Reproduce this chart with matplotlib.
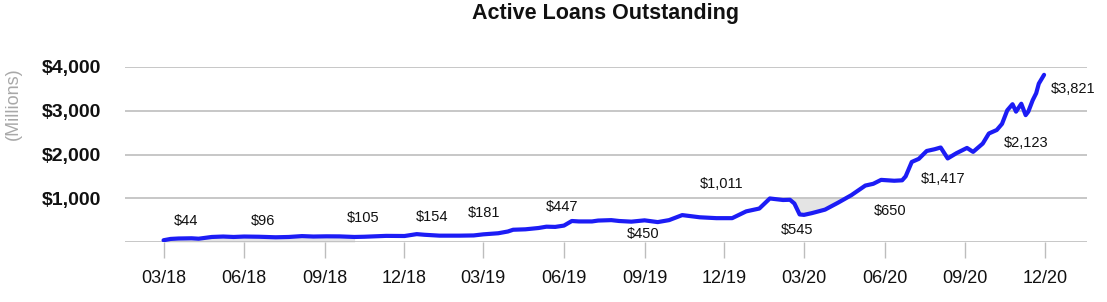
import matplotlib
matplotlib.use("Agg")
import matplotlib.pyplot as plt
import matplotlib.dates as mdates
import pandas as pd

plt.rcParams['font.family'] = ['Liberation Sans', 'DejaVu Sans']

# ---- data ----
dates = [
    "2018-03-01", "2018-03-09", "2018-03-18", "2018-04-02", "2018-04-10", "2018-04-25",
    "2018-05-08", "2018-05-20", "2018-06-01", "2018-06-18", "2018-07-07", "2018-07-22",
    "2018-08-06", "2018-08-19", "2018-09-03", "2018-09-18", "2018-10-05", "2018-10-16",
    "2018-11-10", "2018-12-01", "2018-12-15", "2018-12-24", "2019-01-10", "2019-02-02",
    "2019-02-18", "2019-03-01", "2019-03-18", "2019-03-29", "2019-04-04", "2019-04-18",
    "2019-05-03", "2019-05-12", "2019-05-22", "2019-06-01", "2019-06-10", "2019-06-18",
    "2019-07-03", "2019-07-10", "2019-07-25", "2019-08-03", "2019-08-17", "2019-09-01",
    "2019-09-16", "2019-09-29", "2019-10-14", "2019-11-03", "2019-11-22", "2019-12-10",
    "2019-12-26", "2020-01-10", "2020-01-22", "2020-02-06", "2020-02-14", "2020-02-19",
    "2020-02-25", "2020-03-01", "2020-03-10", "2020-03-25", "2020-04-09", "2020-04-24",
    "2020-05-10", "2020-05-19", "2020-05-28", "2020-06-12", "2020-06-21", "2020-06-25",
    "2020-07-02", "2020-07-10", "2020-07-19", "2020-07-28", "2020-08-04", "2020-08-12",
    "2020-08-22", "2020-09-03", "2020-09-10", "2020-09-21", "2020-09-28", "2020-10-07",
    "2020-10-13", "2020-10-19", "2020-10-25", "2020-10-29", "2020-11-04", "2020-11-09",
    "2020-11-12", "2020-11-17", "2020-11-21", "2020-11-24", "2020-11-30",
]
loans = [
    40, 70, 80, 85, 75, 115,
    125, 115, 125, 120, 108, 115,
    135, 125, 130, 128, 115, 120,
    140, 137, 180, 165, 145, 145,
    150, 175, 200, 240, 280, 290,
    320, 350, 345, 375, 480, 470,
    470, 490, 500, 480, 465, 495,
    455, 500, 615, 565, 545, 545,
    700, 765, 995, 960, 965, 880,
    630, 620, 660, 740, 900, 1070,
    1290, 1330, 1420, 1400, 1410, 1500,
    1830, 1900, 2080, 2120, 2160, 1910,
    2030, 2150, 2060, 2250, 2480, 2560,
    2700, 3010, 3150, 2980, 3160, 2900,
    2980, 3240, 3400, 3620, 3821,
]

label_texts = ["$44", "$96", "$105", "$154", "$181", "$447", "$450",
               "$1,011", "$545", "$650", "$1,417", "$2,123", "$3,821"]
label_dates = ["2018-03-27", "2018-06-22", "2018-10-15", "2019-01-01", "2019-03-02",
               "2019-05-30", "2019-08-30", "2019-11-28", "2020-02-22", "2020-06-07",
               "2020-08-07", "2020-11-09", "2021-01-02"]
label_vals = [480, 480, 548, 582, 673, 800, 183, 1324, 285, 708, 1450, 2272, 3493]

tick_dates = ["2018-03-01", "2018-06-01", "2018-09-01", "2018-12-01", "2019-03-01",
              "2019-06-01", "2019-09-01", "2019-12-01", "2020-03-01", "2020-06-01",
              "2020-09-01", "2020-12-01"]
tick_labels = ["03/18", "06/18", "09/18", "12/18", "03/19", "06/19", "09/19",
               "12/19", "03/20", "06/20", "09/20", "12/20"]
y_ticks = [1000, 2000, 3000, 4000]
y_labels = ["$1,000", "$2,000", "$3,000", "$4,000"]

# ---- figure ----
x = pd.to_datetime(dates)
s = pd.Series(loans, index=x)

fig = plt.figure(figsize=(11.07, 3.02), dpi=100)
ax = fig.add_axes([125 / 1107, 1 - 242 / 302, (1087 - 125) / 1107, (242 - 67) / 302])

grid_color = "#bdbdbd"
for yv in [0] + y_ticks:
    ax.axhline(yv, color=grid_color, lw=1.2, zorder=1)

# shaded areas
fill_col = "#e4e4e4"
m1 = x <= pd.Timestamp("2018-10-10")
ax.fill_between(x[m1], 0, s[m1].values, color=fill_col, lw=0, zorder=0)
m2 = (x >= pd.Timestamp("2020-02-14")) & (x <= pd.Timestamp("2020-04-24"))
ax.fill_between(x[m2], s[m2].values, 1000, where=s[m2].values <= 1000,
                interpolate=True, color=fill_col, lw=0, zorder=0)
m3 = (x >= pd.Timestamp("2020-08-04")) & (x <= pd.Timestamp("2020-09-10"))
ax.fill_between(x[m3], s[m3].values, 2000, where=s[m3].values <= 2000,
                interpolate=True, color=fill_col, lw=0, zorder=0)

ax.plot(x, s.values, color="#1c1cf5", lw=3.0, solid_capstyle="round",
        solid_joinstyle="round", zorder=3)

for t, d, v in zip(label_texts, label_dates, label_vals):
    ax.text(pd.Timestamp(d), v, t, ha="center", va="center", fontsize=10.5,
            color="#111111", zorder=4)

ax.set_ylim(0, 4000)
ax.set_xlim(pd.Timestamp("2018-01-16"), pd.Timestamp("2021-01-18"))
ax.set_yticks(y_ticks)
ax.set_yticklabels(y_labels, fontsize=14, fontweight="bold", color="#111111")
ax.tick_params(axis="y", length=0, pad=17)
ax.set_xticks(pd.to_datetime(tick_dates))
ax.set_xticklabels(tick_labels, fontsize=13, color="#111111")
ax.tick_params(axis="x", direction="out", length=11.5, width=1, color=grid_color, pad=9)
for sp in ax.spines.values():
    sp.set_visible(False)

fig.text(13 / 1107, 1 - 104 / 302, "(Millions)", rotation=90, ha="center", va="center",
         fontsize=13, color="#a8a8a8")
fig.text(605 / 1107, 1 - 13 / 302, "Active Loans Outstanding", ha="center", va="center",
         fontsize=15.5, fontweight="bold", color="#111111")

fig.savefig("out.png", dpi=100)
